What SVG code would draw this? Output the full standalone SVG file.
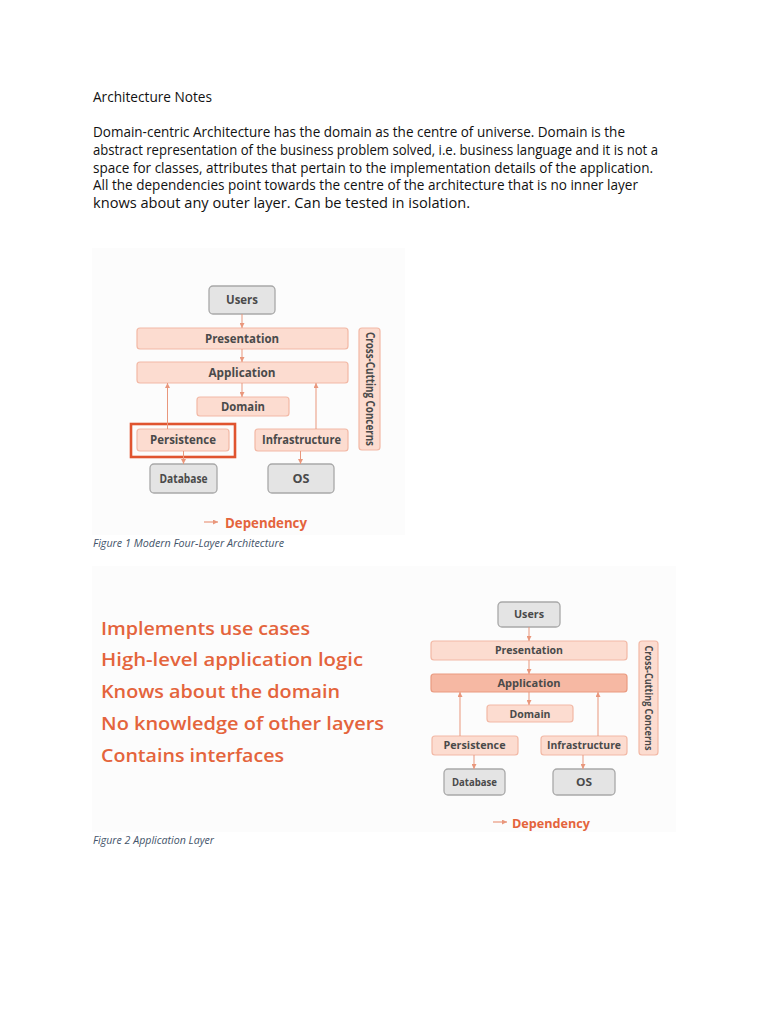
<svg xmlns="http://www.w3.org/2000/svg" width="768" height="1024" viewBox="0 0 768 1024">
<style>
.body{font-family:"Open Sans","Liberation Sans",Arial,sans-serif;font-size:14px;fill:#111111}
.cap{font-family:"Open Sans","Liberation Sans",sans-serif;font-style:italic;font-size:10px;fill:#44546a}
.lbl{font-family:"Open Sans","Liberation Sans",sans-serif;font-weight:700;fill:#4a4a4a;text-anchor:middle}
.l1{font-size:11.5px}
.l2{font-size:10.5px}
.layer{fill:#fcdcd0;stroke:#f2b8a5;stroke-width:1.2}
.layerD{fill:#f6b8a3;stroke:#e99a80;stroke-width:1.2}
.ext{fill:#e4e4e4;stroke:#a8a8a8;stroke-width:1.3}
.conn line{stroke:#e9977c;stroke-width:1;marker-end:url(#ah)}
.bullet{font-family:"Open Sans","Liberation Sans",sans-serif;font-weight:600;font-size:18px;fill:#e4643c}
.dep{font-family:"Open Sans","Liberation Sans",sans-serif;font-weight:700;fill:#e4643c}
</style>
<defs>
<marker id="ah" viewBox="0 0 6 6" refX="6" refY="3" markerWidth="5" markerHeight="5" markerUnits="userSpaceOnUse" orient="auto">
<path d="M0,0 L6,3 L0,6 z" fill="#e9977c"/>
</marker>
</defs>
<rect width="768" height="1024" fill="#ffffff"/>

<g id="notes">
<text class="body" x="93" y="102" textLength="119" lengthAdjust="spacingAndGlyphs">Architecture Notes</text>
<text class="body" x="93" y="137" textLength="532" lengthAdjust="spacingAndGlyphs">Domain-centric Architecture has the domain as the centre of universe. Domain is the</text>
<text class="body" x="93" y="155" textLength="565" lengthAdjust="spacingAndGlyphs">abstract representation of the business problem solved, i.e. business language and it is not a</text>
<text class="body" x="93" y="172.5" textLength="560" lengthAdjust="spacingAndGlyphs">space for classes, attributes that pertain to the implementation details of the application.</text>
<text class="body" x="93" y="190" textLength="545" lengthAdjust="spacingAndGlyphs">All the dependencies point towards the centre of the architecture that is no inner layer</text>
<text class="body" x="93" y="207.5" textLength="377" lengthAdjust="spacingAndGlyphs">knows about any outer layer. Can be tested in isolation.</text>
</g>

<!-- Figure 1 -->
<rect x="92" y="248" width="313" height="287" fill="#fcfcfc"/>
<g id="f1-users"><rect class="ext" x="209" y="286" width="66" height="28" rx="4"/><text class="lbl l1" x="242" y="304" textLength="32" lengthAdjust="spacingAndGlyphs">Users</text></g>
<g id="f1-presentation"><rect class="layer" x="137" y="328" width="211" height="21" rx="3"/><text class="lbl l1" x="242" y="342.5" textLength="74" lengthAdjust="spacingAndGlyphs">Presentation</text></g>
<g id="f1-application"><rect class="layer" x="137" y="362" width="211" height="21" rx="3"/><text class="lbl l1" x="242" y="376.5" textLength="67" lengthAdjust="spacingAndGlyphs">Application</text></g>
<g id="f1-domain"><rect class="layer" x="197" y="397" width="92" height="19" rx="3"/><text class="lbl l1" x="243" y="410.5" textLength="44" lengthAdjust="spacingAndGlyphs">Domain</text></g>
<g id="f1-persistence"><rect x="131" y="424" width="104" height="33" fill="none" stroke="#e0542f" stroke-width="2.6"/><rect class="layer" x="137" y="429" width="92" height="22" rx="3"/><text class="lbl l1" x="183" y="444" textLength="66" lengthAdjust="spacingAndGlyphs">Persistence</text></g>
<g id="f1-infrastructure"><rect class="layer" x="255" y="429" width="93" height="22" rx="3"/><text class="lbl l1" x="301.5" y="444" textLength="79" lengthAdjust="spacingAndGlyphs">Infrastructure</text></g>
<g id="f1-database"><rect class="ext" x="150" y="464" width="67" height="29" rx="4"/><text class="lbl l1" x="183.5" y="482.5" textLength="48" lengthAdjust="spacingAndGlyphs">Database</text></g>
<g id="f1-os"><rect class="ext" x="268" y="464" width="66" height="29" rx="4"/><text class="lbl l1" x="301" y="482.5" textLength="17" lengthAdjust="spacingAndGlyphs">OS</text></g>
<g id="f1-crosscutting"><rect class="layer" x="359" y="328" width="21" height="122" rx="3"/><text class="lbl l1" transform="translate(366,389) rotate(90)" x="0" y="0" textLength="114" lengthAdjust="spacingAndGlyphs">Cross-Cutting Concerns</text></g>
<g id="f1-connectors" class="conn">
<line x1="242" y1="314" x2="242" y2="328"/>
<line x1="242" y1="349" x2="242" y2="362"/>
<line x1="242" y1="383" x2="242" y2="397"/>
<line x1="167.5" y1="429" x2="167.5" y2="383"/>
<line x1="316" y1="429" x2="316" y2="383"/>
<line x1="183.5" y1="451" x2="183.5" y2="464"/>
<line x1="300.5" y1="451" x2="300.5" y2="464"/>
</g>
<g id="f1-legend"><line x1="204" y1="522" x2="218" y2="522" stroke="#e9977c" stroke-width="1.2" marker-end="url(#ah)"/><text class="dep" x="225" y="527.5" font-size="13.5" textLength="82" lengthAdjust="spacingAndGlyphs">Dependency</text></g>
<text class="cap" x="93" y="547" textLength="191" lengthAdjust="spacingAndGlyphs">Figure 1 Modern Four-Layer Architecture</text>

<!-- Figure 2 -->
<rect x="92" y="566" width="584" height="266" fill="#fcfcfc"/>
<g id="f2-bullets">
<text class="bullet" x="101" y="634.5" textLength="209" lengthAdjust="spacingAndGlyphs">Implements use cases</text>
<text class="bullet" x="101" y="666" textLength="262" lengthAdjust="spacingAndGlyphs">High-level application logic</text>
<text class="bullet" x="101" y="697.5" textLength="239" lengthAdjust="spacingAndGlyphs">Knows about the domain</text>
<text class="bullet" x="101" y="729.5" textLength="283" lengthAdjust="spacingAndGlyphs">No knowledge of other layers</text>
<text class="bullet" x="101" y="761.5" textLength="183" lengthAdjust="spacingAndGlyphs">Contains interfaces</text>
</g>
<g id="f2-users"><rect class="ext" x="498" y="602" width="62" height="25" rx="4"/><text class="lbl l2" x="529" y="617.5" textLength="30" lengthAdjust="spacingAndGlyphs">Users</text></g>
<g id="f2-presentation"><rect class="layer" x="431" y="641" width="196" height="19" rx="3"/><text class="lbl l2" x="529" y="654" textLength="68" lengthAdjust="spacingAndGlyphs">Presentation</text></g>
<g id="f2-application"><rect class="layerD" x="431" y="674" width="196" height="18" rx="3"/><text class="lbl l2" x="529" y="686.5" textLength="63" lengthAdjust="spacingAndGlyphs">Application</text></g>
<g id="f2-domain"><rect class="layer" x="487" y="705" width="86" height="17" rx="3"/><text class="lbl l2" x="530" y="717.5" textLength="41" lengthAdjust="spacingAndGlyphs">Domain</text></g>
<g id="f2-persistence"><rect class="layer" x="432" y="736" width="86" height="19" rx="3"/><text class="lbl l2" x="474.5" y="749" textLength="62" lengthAdjust="spacingAndGlyphs">Persistence</text></g>
<g id="f2-infrastructure"><rect class="layer" x="541" y="736" width="86" height="19" rx="3"/><text class="lbl l2" x="584" y="749" textLength="74" lengthAdjust="spacingAndGlyphs">Infrastructure</text></g>
<g id="f2-database"><rect class="ext" x="444" y="769" width="61" height="26" rx="4"/><text class="lbl l2" x="474.5" y="785.5" textLength="45" lengthAdjust="spacingAndGlyphs">Database</text></g>
<g id="f2-os"><rect class="ext" x="553" y="769" width="62" height="26" rx="4"/><text class="lbl l2" x="584" y="785.5" textLength="16" lengthAdjust="spacingAndGlyphs">OS</text></g>
<g id="f2-crosscutting"><rect class="layer" x="639" y="641" width="19" height="114" rx="3"/><text class="lbl l2" transform="translate(644.8,698) rotate(90)" x="0" y="0" textLength="105" lengthAdjust="spacingAndGlyphs">Cross-Cutting Concerns</text></g>
<g id="f2-connectors" class="conn">
<line x1="529" y1="627" x2="529" y2="641"/>
<line x1="529" y1="660" x2="529" y2="674"/>
<line x1="529" y1="692" x2="529" y2="705"/>
<line x1="460" y1="736" x2="460" y2="692"/>
<line x1="598" y1="736" x2="598" y2="692"/>
<line x1="474" y1="755" x2="474" y2="769"/>
<line x1="583" y1="755" x2="583" y2="769"/>
</g>
<g id="f2-legend"><line x1="493" y1="822" x2="507" y2="822" stroke="#e9977c" stroke-width="1.2" marker-end="url(#ah)"/><text class="dep" x="512" y="827.5" font-size="13" textLength="78" lengthAdjust="spacingAndGlyphs">Dependency</text></g>
<text class="cap" x="93" y="843.5" textLength="121" lengthAdjust="spacingAndGlyphs">Figure 2 Application Layer</text>
</svg>
